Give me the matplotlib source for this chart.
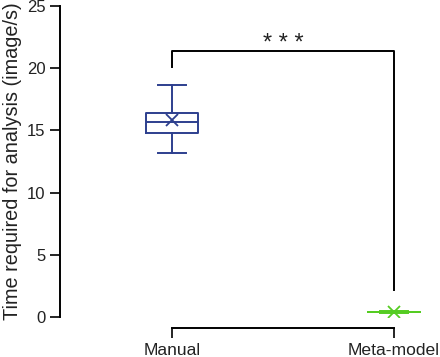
import matplotlib.pyplot as plt

plt.rcParams['font.family'] = ['Liberation Sans', 'DejaVu Sans']

# Group labels and box statistics
groups = ['Manual', 'Meta-model']
whislo = [13.15, 0.35]
q1 = [14.8, 0.37]
med = [15.7, 0.40]
q3 = [16.4, 0.43]
whishi = [18.65, 0.45]
means = [15.8, 0.40]
colors = ['#2d3f8e', '#55cc22']

yticks = [0, 5, 10, 15, 20, 25]
bracket_y = 21.4
bracket_drop = [20.1, 2.2]

fig = plt.figure(figsize=(4.4, 3.57), dpi=100)
ax = fig.add_axes([0.136, 0.112, 0.864, 0.871])

stats = []
for i, g in enumerate(groups):
    stats.append(dict(label=g, whislo=whislo[i], q1=q1[i], med=med[i],
                      q3=q3[i], whishi=whishi[i], mean=means[i], fliers=[]))

for i, s in enumerate(stats):
    c = colors[i]
    ax.bxp([s], positions=[i], widths=0.235, showmeans=True,
           boxprops=dict(color=c, linewidth=1.4),
           whiskerprops=dict(color=c, linewidth=1.4),
           capprops=dict(color=c, linewidth=1.4),
           medianprops=dict(color=c, linewidth=1.4),
           meanprops=dict(marker='x', markeredgecolor=c, markersize=9,
                          markeredgewidth=1.3),
           capwidths=0.13)

# significance bracket
ax.plot([0, 0, 1, 1], [bracket_drop[0], bracket_y, bracket_y, bracket_drop[1]],
        color='black', linewidth=1.4)
ax.text(0.5, bracket_y + 0.1, '* * *', ha='center', va='baseline', fontsize=17,
        color='#222222')

ax.set_xlim(-0.505, 1.207)
ax.set_ylim(0, 25)
ax.set_yticks(yticks)
ax.set_xticks([0, 1])
ax.set_xticklabels(groups)
ax.set_ylabel('Time required for analysis (image/s)', fontsize=14.3, labelpad=3,
              color='#222222')

for side in ['top', 'right']:
    ax.spines[side].set_visible(False)
ax.spines['left'].set_bounds(0, 25)
ax.spines['bottom'].set_position(('outward', 8))
ax.spines['bottom'].set_bounds(0, 1)
ax.spines['left'].set_linewidth(1.4)
ax.spines['bottom'].set_linewidth(1.4)
ax.tick_params(axis='both', width=1.2, length=7.5, colors='black',
               labelcolor='#222222')
ax.tick_params(axis='x', labelsize=12.6, pad=3)
ax.tick_params(axis='y', labelsize=12, pad=3)
ax.patch.set_alpha(0)

fig.savefig('out.png', dpi=100)
